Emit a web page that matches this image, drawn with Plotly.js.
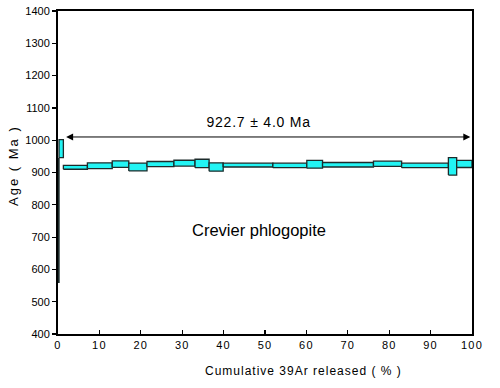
<!DOCTYPE html>
<html>
<head>
<meta charset="utf-8">
<script src="https://cdn.plot.ly/plotly-3.0.1.min.js"></script>
<style>
html,body{margin:0;padding:0;background:#fff;}
#chart{width:500px;height:388px;}
.xtick text{letter-spacing:1.2px;}
.annotation[data-index="1"] text{letter-spacing:0.8px;}
.annotation[data-index="3"] text{letter-spacing:1px;}
.annotation[data-index="4"] text{letter-spacing:2px;}
</style>
</head>
<body>
<div id="chart"></div>
<script>
// Cumulative 39Ar released (%) step edges
const stepEdges = [0, 0.25, 1.3, 7.1, 13.1, 17.1, 21.5, 28.0, 33.1, 36.5, 39.9, 51.9, 60.1, 63.9, 76.2, 83.0, 94.3, 96.3, 100];
// Apparent ages (Ma) of each step
const stepAges = [752, 974, 916, 921, 926, 917, 926, 929, 928, 917, 923, 922, 925.5, 924, 927, 922, 919, 926.5];
// Half-height (error) of each step box (Ma)
const stepErrors = [192, 28, 6, 9, 10, 12, 8, 9, 13, 13, 6, 7, 12, 7, 8, 7, 27, 11];
// Plateau
const plateauStart = 1.6, plateauEnd = 99.6, plateauLevel = 1010;
const plateauLabel = "922.7 ± 4.0 Ma";
const sampleLabel = "Crevier phlogopite";
const xTitle = "Cumulative 39Ar released ( % )";
const yTitle = "Age ( Ma )";
const xTicks = [0,10,20,30,40,50,60,70,80,90,100];
const yTicks = [400,500,600,700,800,900,1000,1100,1200,1300,1400];

const traces = stepAges.map((age, i) => {
  const x0 = stepEdges[i], x1 = stepEdges[i+1];
  const lo = age - stepErrors[i], hi = age + stepErrors[i];
  return {
    type: 'scatter', mode: 'lines',
    x: [x0, x1, x1, x0, x0],
    y: [lo, lo, hi, hi, lo],
    fill: 'toself', fillcolor: '#22f4f4',
    line: {color: '#1c2b2b', width: 1.3},
    hoverinfo: 'skip', showlegend: false
  };
});

const font = {family: 'Arial, "Liberation Sans", sans-serif', color: '#000'};

const layout = {
  width: 500, height: 388,
  margin: {l: 58, r: 28, t: 11, b: 54},
  paper_bgcolor: '#fff', plot_bgcolor: '#fff',
  showlegend: false,
  xaxis: {
    range: [0, 100], tickvals: xTicks, ticktext: xTicks.map(String),
    ticks: 'inside', ticklen: 4, tickwidth: 1.2, tickcolor: '#000',
    showgrid: false, zeroline: false,
    showline: true, linecolor: '#000', linewidth: 2, mirror: true,
    tickfont: Object.assign({size: 11}, font)
  },
  yaxis: {
    range: [400, 1400], tickvals: yTicks, ticktext: yTicks.map(String),
    ticks: 'outside', ticklen: 4, tickwidth: 1.2, tickcolor: '#000',
    showgrid: false, zeroline: false,
    showline: true, linecolor: '#000', linewidth: 2, mirror: true,
    tickfont: Object.assign({size: 11}, font)
  },
  annotations: [
    {
      x: plateauEnd, y: plateauLevel, ax: plateauStart, ay: plateauLevel,
      xref: 'x', yref: 'y', axref: 'x', ayref: 'y',
      text: '', showarrow: true, arrowhead: 2, arrowside: 'end+start',
      arrowsize: 1.4, arrowwidth: 1, arrowcolor: '#000'
    },
    {
      x: 48.5, y: 1057, xref: 'x', yref: 'y', text: plateauLabel,
      showarrow: false, font: Object.assign({size: 14}, font)
    },
    {
      x: 48.6, y: 721, xref: 'x', yref: 'y', text: sampleLabel,
      showarrow: false, font: Object.assign({size: 16.5}, font)
    },
    {
      x: 0.594, y: -0.115, xref: 'paper', yref: 'paper',
      text: xTitle, showarrow: false,
      xanchor: 'center', yanchor: 'middle',
      font: Object.assign({size: 12}, font)
    },
    {
      x: -0.109, y: 0.523, xref: 'paper', yref: 'paper',
      text: yTitle, showarrow: false, textangle: -90,
      xanchor: 'center', yanchor: 'middle',
      font: Object.assign({size: 13}, font)
    }
  ]
};

Plotly.newPlot('chart', traces, layout, {displayModeBar: false, staticPlot: true});
</script>
</body>
</html>
